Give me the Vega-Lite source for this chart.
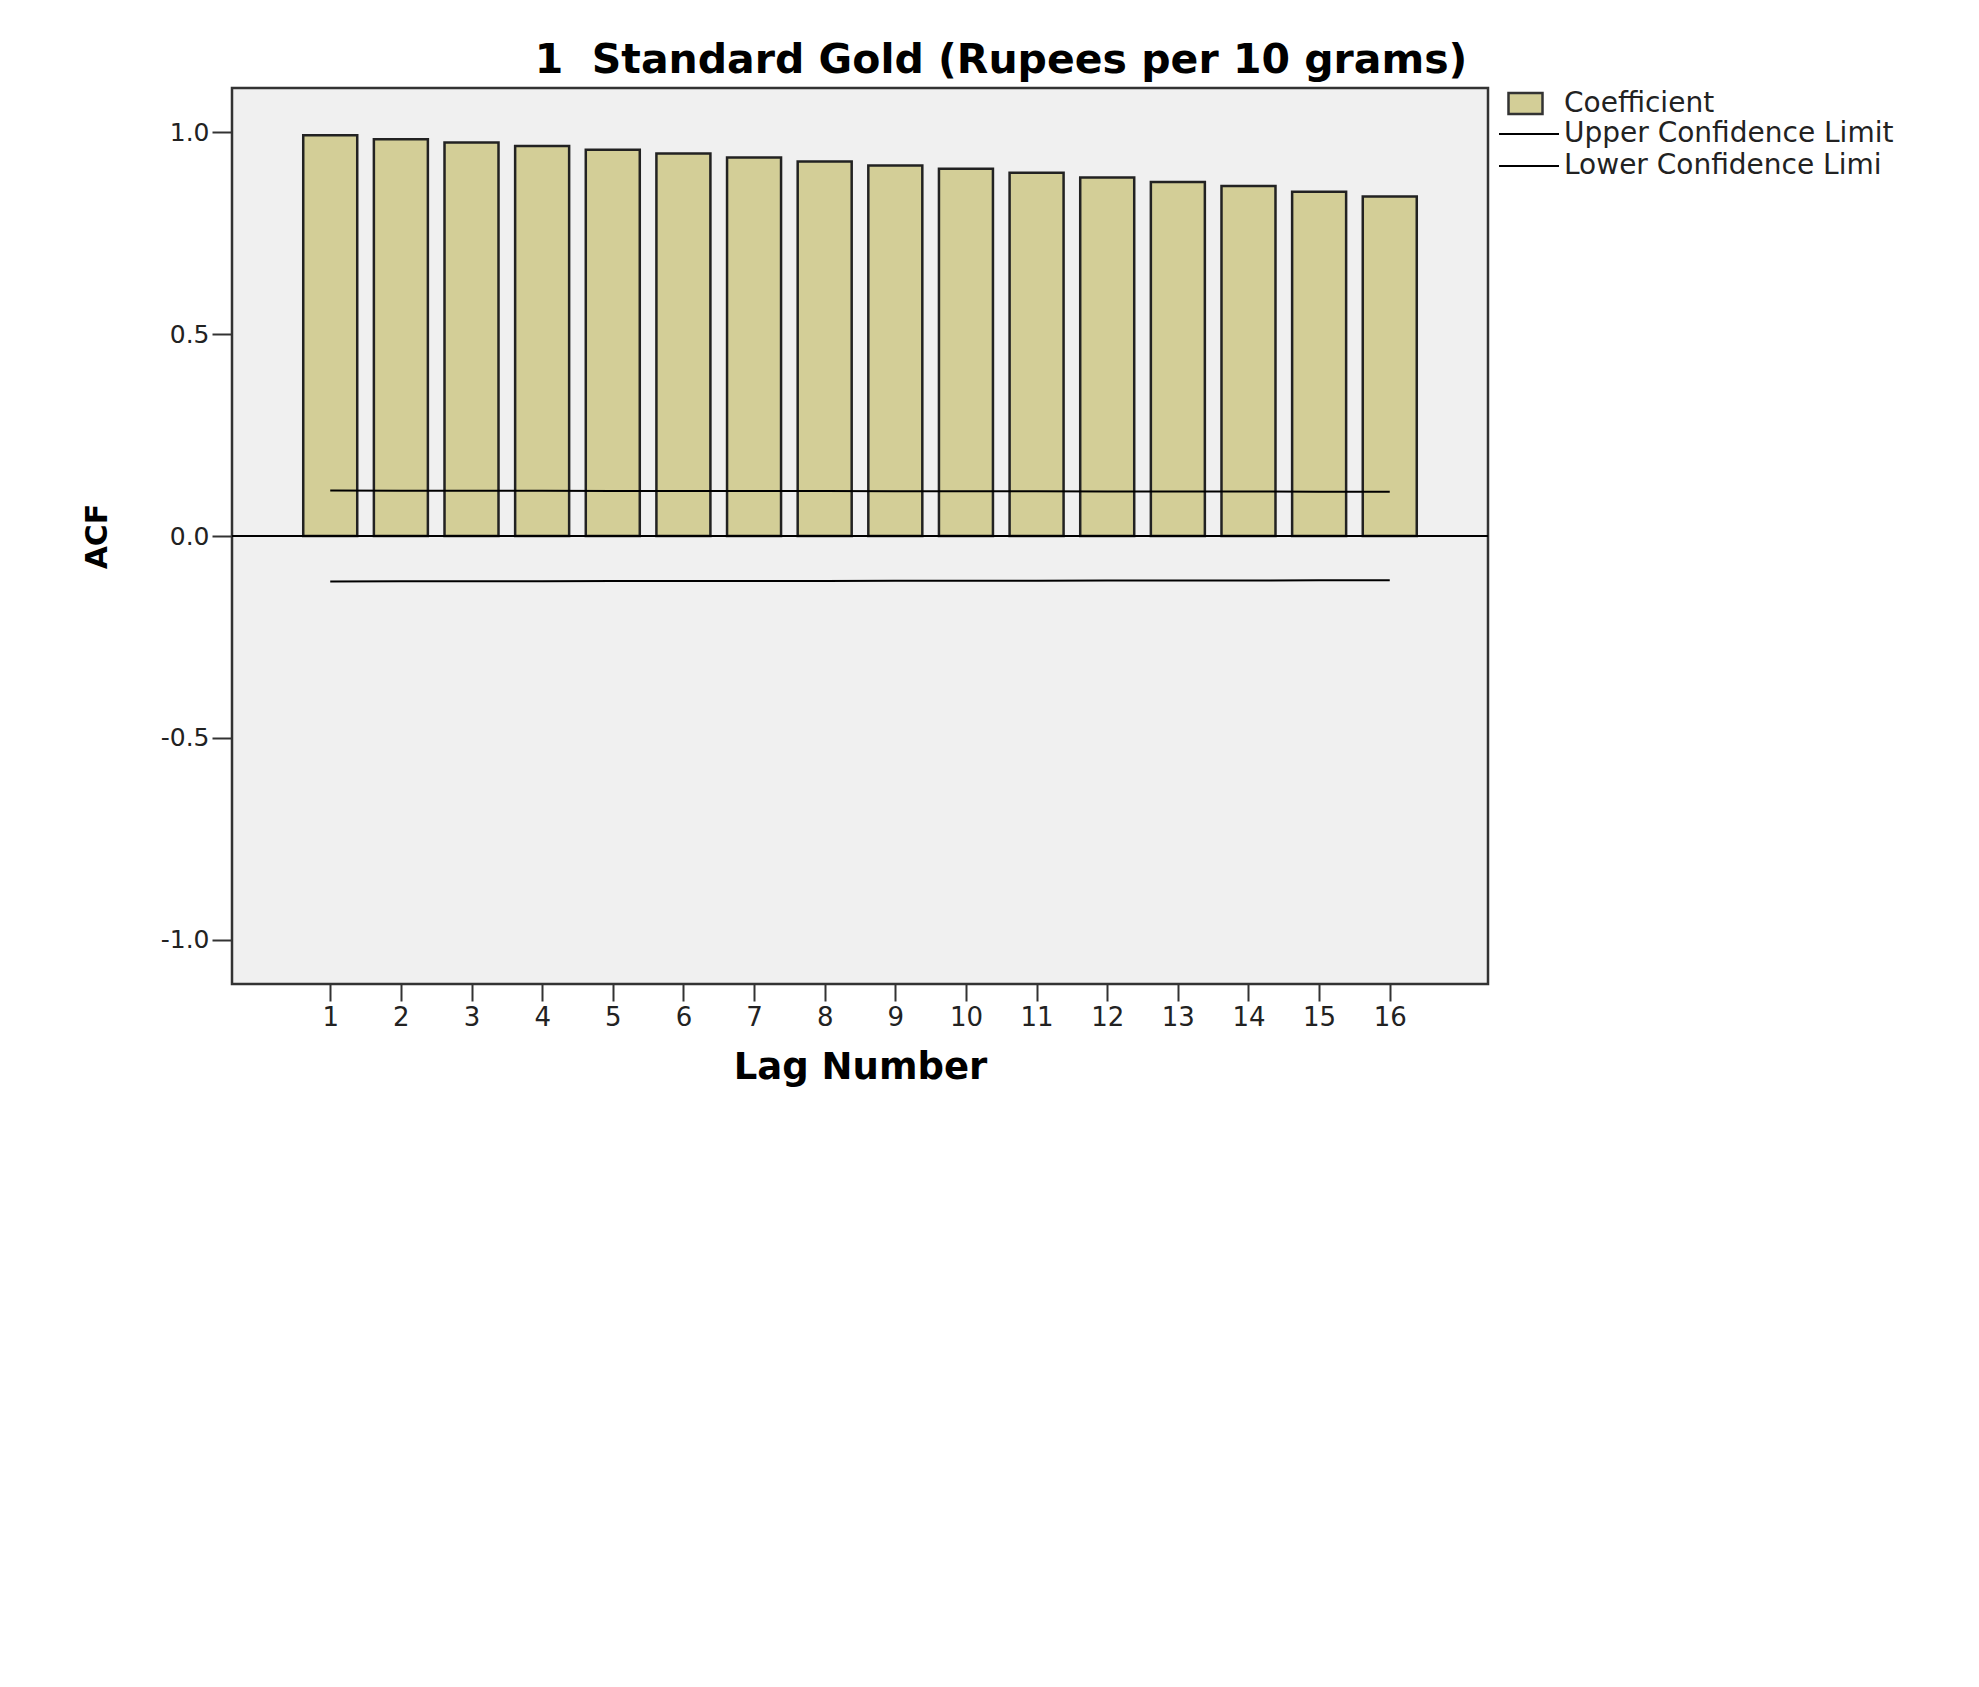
{
  "$schema": "https://vega.github.io/schema/vega-lite/v6.json",
  "autosize": "none",
  "width": 1256,
  "height": 896,
  "padding": {"left": 232, "top": 88, "right": 491, "bottom": 703},
  "background": "white",
  "title": {
    "text": "1\u00a0 Standard Gold (Rupees per 10 grams)",
    "font": "DejaVu Sans",
    "fontSize": 41,
    "fontWeight": "bold",
    "color": "black",
    "anchor": "middle",
    "dx": 141,
    "offset": 3
  },
  "data": {
    "values": [
      {"lag": 1, "acf": 0.993, "ucl": 0.1126, "lcl": -0.1126},
      {"lag": 2, "acf": 0.983, "ucl": 0.1124, "lcl": -0.1124},
      {"lag": 3, "acf": 0.975, "ucl": 0.1122, "lcl": -0.1122},
      {"lag": 4, "acf": 0.966, "ucl": 0.1120, "lcl": -0.1120},
      {"lag": 5, "acf": 0.957, "ucl": 0.1118, "lcl": -0.1118},
      {"lag": 6, "acf": 0.948, "ucl": 0.1117, "lcl": -0.1117},
      {"lag": 7, "acf": 0.938, "ucl": 0.1115, "lcl": -0.1115},
      {"lag": 8, "acf": 0.928, "ucl": 0.1113, "lcl": -0.1113},
      {"lag": 9, "acf": 0.918, "ucl": 0.1111, "lcl": -0.1111},
      {"lag": 10, "acf": 0.910, "ucl": 0.1109, "lcl": -0.1109},
      {"lag": 11, "acf": 0.900, "ucl": 0.1107, "lcl": -0.1107},
      {"lag": 12, "acf": 0.888, "ucl": 0.1105, "lcl": -0.1105},
      {"lag": 13, "acf": 0.877, "ucl": 0.1103, "lcl": -0.1103},
      {"lag": 14, "acf": 0.867, "ucl": 0.1101, "lcl": -0.1101},
      {"lag": 15, "acf": 0.853, "ucl": 0.1099, "lcl": -0.1099},
      {"lag": 16, "acf": 0.841, "ucl": 0.1097, "lcl": -0.1097}
    ]
  },
  "encoding": {
    "x": {
      "field": "lag",
      "type": "quantitative",
      "scale": {"domain": [-0.32, 17.32], "nice": false, "zero": false},
      "axis": {
        "values": [1, 2, 3, 4, 5, 6, 7, 8, 9, 10, 11, 12, 13, 14, 15, 16],
        "format": "d",
        "title": "Lag Number",
        "domain": false,
        "grid": false,
        "tickSize": 17,
        "tickWidth": 2,
        "tickColor": "#333",
        "labelFont": "DejaVu Sans",
        "labelFontSize": 26,
        "labelColor": "#222",
        "labelPadding": 3,
        "labelFlush": false,
        "titleFont": "DejaVu Sans",
        "titleFontSize": 37,
        "titleFontWeight": "bold",
        "titleColor": "black",
        "titlePadding": 19
      }
    }
  },
  "layer": [
    {
      "mark": {"type": "bar", "width": 54, "stroke": "#222", "strokeWidth": 2.5},
      "encoding": {
        "y": {
          "field": "acf",
          "type": "quantitative",
          "scale": {"domain": [-1.11, 1.11], "nice": false, "zero": false},
          "axis": {
            "values": [-1, -0.5, 0, 0.5, 1],
            "labelExpr": "datum.value < 0 ? '-' + format(-datum.value, '.1f') : format(datum.value, '.1f')",
            "title": "ACF",
            "domain": false,
            "grid": false,
            "tickSize": 20,
            "tickWidth": 2,
            "tickColor": "#333",
            "labelFont": "DejaVu Sans",
            "labelFontSize": 25,
            "labelColor": "#222",
            "labelPadding": 3,
            "titleFont": "DejaVu Sans",
            "titleFontSize": 30,
            "titleFontWeight": "bold",
            "titleColor": "black",
            "titlePadding": 48
          }
        },
        "y2": {"datum": 0},
        "fill": {
          "datum": "Coefficient",
          "scale": {"range": ["#d3ce97"]},
          "legend": {
            "orient": "none",
            "legendX": 1275,
            "legendY": -3,
            "title": null,
            "padding": 0,
            "symbolType": "M-1,-0.62H1V0.62H-1Z",
            "symbolSize": 1156,
            "symbolStrokeColor": "#333",
            "symbolStrokeWidth": 2.5,
            "labelFont": "DejaVu Sans",
            "labelFontSize": 28,
            "labelColor": "#222",
            "labelOffset": 20,
            "labelLimit": 0
          }
        }
      }
    },
    {
      "data": {"values": [{"zero": 0}]},
      "mark": {"type": "rule", "color": "black", "strokeWidth": 2},
      "encoding": {
        "x": null,
        "y": {"field": "zero", "type": "quantitative"}
      }
    },
    {
      "transform": [{"fold": ["ucl", "lcl"], "as": ["series", "limit"]}],
      "mark": {"type": "line", "strokeWidth": 2},
      "encoding": {
        "y": {"field": "limit", "type": "quantitative"},
        "stroke": {
          "field": "series",
          "type": "nominal",
          "scale": {"domain": ["ucl", "lcl"], "range": ["black", "black"]},
          "legend": {
            "orient": "none",
            "legendX": 1283,
            "legendY": 32,
            "title": null,
            "padding": 0,
            "rowPadding": 4,
            "symbolType": "M-3,0H3",
            "symbolSize": 400,
            "symbolStrokeWidth": 2,
            "labelFont": "DejaVu Sans",
            "labelFontSize": 28,
            "labelColor": "#222",
            "labelOffset": 21,
            "labelLimit": 0,
            "labelExpr": "datum.value == 'ucl' ? 'Upper Confidence Limit' : 'Lower Confidence Limi'"
          }
        }
      }
    }
  ],
  "config": {
    "view": {"fill": "#f0f0f0", "stroke": "#333", "strokeWidth": 2.5}
  }
}
